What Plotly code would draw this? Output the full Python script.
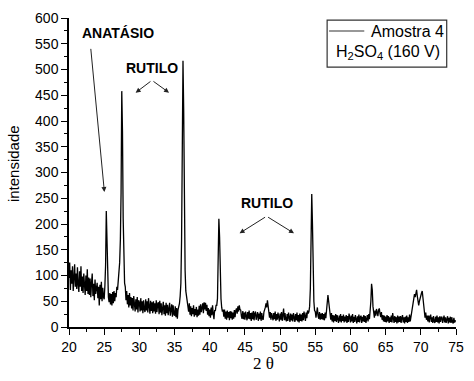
import plotly.graph_objects as go

# 2-theta sampling grid: start 20.0, step 0.1 (one row below = one degree)
theta_start = 20.0
theta_step = 0.1

intensity = (
    [95, 125, 72, 110, 84, 118, 70, 100, 122, 78] +     # 20
    [104, 74, 116, 82, 68, 108, 78, 118, 70, 98] +      # 21
    [66, 104, 72, 62, 100, 70, 112, 64, 96, 62] +       # 22
    [94, 58, 86, 104, 60, 84, 52, 92, 64, 78] +         # 23
    [86, 56, 78, 42, 82, 54, 88, 50, 76, 58] +          # 24
    [54, 80, 120, 225, 150, 92, 58, 48, 66, 44] +       # 25
    [64, 42, 68, 46, 70, 50, 66, 58, 78, 72] +          # 26
    [88, 100, 125, 170, 260, 458, 380, 210, 120, 85] +  # 27
    [78, 52, 70, 44, 62, 38, 66, 42, 58, 36] +          # 28
    [56, 32, 60, 38, 30, 54, 34, 58, 28, 52] +          # 29
    [48, 30, 56, 32, 50, 27, 52, 34, 29, 54] +          # 30
    [32, 50, 28, 56, 34, 26, 51, 31, 48, 27] +          # 31
    [50, 30, 46, 26, 52, 29, 45, 48, 25, 51] +          # 32
    [28, 46, 23, 44, 49, 25, 42, 22, 47, 27] +          # 33
    [43, 23, 41, 47, 22, 39, 44, 20, 42, 25] +          # 34
    [22, 40, 19, 37, 16, 34, 40, 46, 60, 85] +          # 35
    [170, 300, 517, 420, 210, 110, 70, 55, 46, 40] +    # 36
    [30, 46, 24, 40, 21, 37, 25, 42, 20, 35] +          # 37
    [23, 39, 19, 34, 22, 41, 24, 44, 29, 40] +          # 38
    [46, 27, 48, 34, 47, 31, 43, 24, 37, 21] +          # 39
    [34, 18, 38, 23, 42, 26, 15, 33, 31, 42] +          # 40
    [42, 55, 120, 210, 175, 95, 55, 38, 30, 34] +       # 41
    [20, 34, 16, 30, 14, 32, 18, 29, 13, 31] +          # 42
    [17, 30, 14, 28, 16, 33, 19, 32, 36, 26] +          # 43
    [40, 30, 42, 34, 33, 21, 16, 31, 15, 28] +          # 44
    [14, 30, 17, 13, 29, 16, 32, 15, 27, 12] +          # 45
    [28, 15, 31, 13, 26, 30, 14, 25, 29, 12] +          # 46
    [26, 15, 30, 12, 27, 16, 14, 29, 32, 38] +          # 47
    [46, 38, 52, 36, 30, 18, 29, 14, 27, 16] +          # 48
    [13, 27, 15, 30, 12, 25, 14, 28, 16, 11] +          # 49
    [26, 14, 29, 12, 24, 36, 13, 27, 15, 11] +          # 50
    [25, 12, 28, 14, 10, 26, 13, 24, 11, 27] +          # 51
    [14, 10, 25, 13, 28, 11, 23, 9, 26, 12] +           # 52
    [24, 11, 27, 13, 30, 15, 12, 28, 17, 32] +          # 53
    [26, 30, 40, 75, 140, 258, 200, 100, 50, 32] +      # 54
    [30, 18, 33, 38, 21, 16, 29, 14, 26, 15] +          # 55
    [27, 14, 25, 13, 28, 17, 32, 45, 62, 50] +          # 56
    [34, 18, 14, 27, 11, 23, 9, 22, 12, 25] +           # 57
    [10, 23, 12, 8, 22, 11, 25, 9, 21, 12] +            # 58
    [24, 9, 20, 11, 23, 8, 21, 10, 26, 12] +            # 59
    [9, 22, 11, 25, 8, 20, 10, 23, 12, 7] +             # 60
    [21, 10, 24, 9, 19, 22, 8, 20, 11, 23] +            # 61
    [10, 21, 8, 19, 23, 11, 25, 15, 28, 50] +           # 62
    [84, 72, 40, 26, 18, 32, 22, 35, 25, 21] +          # 63
    [33, 36, 26, 19, 29, 14, 23, 11, 22, 10] +          # 64
    [20, 9, 23, 11, 21, 8, 19, 10, 22, 9] +             # 65
    [27, 11, 8, 21, 10, 19, 7, 22, 9, 20] +             # 66
    [10, 21, 8, 18, 23, 9, 19, 7, 20, 10] +             # 67
    [22, 8, 19, 10, 24, 11, 21, 26, 32, 42] +           # 68
    [55, 64, 58, 66, 72, 60, 48, 42, 50, 58] +          # 69
    [62, 66, 70, 55, 38, 26, 18, 28, 14, 22] +          # 70
    [11, 22, 9, 20, 24, 10, 19, 8, 21, 11] +            # 71
    [8, 20, 10, 22, 9, 19, 7, 21, 10, 18] +             # 72
    [20, 8, 18, 22, 9, 19, 8, 17, 21, 7] +              # 73
    [18, 9, 20, 8, 19, 10, 7, 18, 9, 12] +              # 74
    [12]                                                # 75
)
two_theta = [round(theta_start + theta_step * i, 2) for i in range(len(intensity))]

x_ticks = [20, 25, 30, 35, 40, 45, 50, 55, 60, 65, 70, 75]
y_ticks = [0, 50, 100, 150, 200, 250, 300, 350, 400, 450, 500, 550, 600]

series_name = "Amostra 4"
series_note = "H<sub>2</sub>SO<sub>4</sub> (160 V)"
x_title = "2 θ"
y_title = "intensidade"

# phase labels: (text, x, y)
phase_labels = [("ANATÁSIO", 26.9, 571), ("RUTILO", 31.75, 502), ("RUTILO", 48.2, 240)]
# arrows: (tail_x, tail_y, head_x, head_y)
phase_arrows = [
    (23.08, 543, 25.03, 262),
    (31.79, 479, 29.47, 455),
    (31.79, 479, 34.22, 455),
    (48.08, 215, 44.24, 182),
    (48.08, 215, 51.98, 182),
]

fig = go.Figure()
fig.add_trace(go.Scatter(x=two_theta, y=intensity, mode="lines",
                         line=dict(color="black", width=1.3), name=series_name,
                         showlegend=False))

tick_font = dict(family="Liberation Sans, Arial, sans-serif", size=14, color="black")
fig.update_xaxes(range=[20, 75], tickvals=x_ticks, ticks="outside", ticklen=6,
                 tickwidth=1, tickcolor="black", showline=True, linecolor="black",
                 linewidth=1.5, showgrid=False, zeroline=False, tickfont=tick_font,
                 minor=dict(ticks="outside", ticklen=3, dtick=2.5, tick0=20,
                            tickcolor="black", showgrid=False))
fig.update_yaxes(range=[0, 600], tickvals=y_ticks, ticks="outside", ticklen=6,
                 tickwidth=1, tickcolor="black", showline=True, linecolor="black",
                 linewidth=1.5, showgrid=False, zeroline=False, tickfont=tick_font,
                 minor=dict(ticks="outside", ticklen=3, dtick=25, tick0=0,
                            tickcolor="black", showgrid=False))

annotations = []
for txt, x, y in phase_labels:
    annotations.append(dict(x=x, y=y, xref="x", yref="y", text="<b>%s</b>" % txt,
                            showarrow=False, font=dict(family="Liberation Sans, Arial",
                                                       size=14, color="black")))
for tx, ty, hx, hy in phase_arrows:
    annotations.append(dict(x=hx, y=hy, ax=tx, ay=ty, xref="x", yref="y",
                            axref="x", ayref="y", text="", showarrow=True,
                            arrowhead=2, arrowsize=1, arrowwidth=1,
                            arrowcolor="#222222"))

# legend box
annotations.append(dict(x=0.776, y=0.957, xref="paper", yref="paper", text=series_name,
                        showarrow=False, xanchor="left", yanchor="middle",
                        font=dict(family="Liberation Sans, Arial", size=16, color="black")))
annotations.append(dict(x=0.823, y=0.888, xref="paper", yref="paper", text=series_note,
                        showarrow=False, xanchor="center", yanchor="middle",
                        font=dict(family="Liberation Sans, Arial", size=16, color="black")))
# axis titles
annotations.append(dict(x=0.5025, y=-0.118, xref="paper", yref="paper", text=x_title,
                        showarrow=False, xanchor="center", yanchor="middle",
                        font=dict(family="Liberation Serif, Times New Roman, serif",
                                  size=17, color="black")))
annotations.append(dict(x=-0.145, y=0.53, xref="paper", yref="paper", text=y_title,
                        showarrow=False, textangle=-90, xanchor="center", yanchor="middle",
                        font=dict(family="Liberation Sans, Arial", size=15, color="black")))

shapes = [
    dict(type="rect", xref="paper", yref="paper", x0=0.667, x1=0.976, y0=0.841, y1=0.993,
         line=dict(color="#333333", width=1.2), fillcolor="white", layer="above"),
    dict(type="line", xref="paper", yref="paper", x0=0.672, x1=0.763, y0=0.958, y1=0.958,
         line=dict(color="#333333", width=1.2)),
]

fig.update_layout(width=474, height=381, margin=dict(l=69, r=12, t=10, b=54),
                  paper_bgcolor="white", plot_bgcolor="white",
                  annotations=annotations, shapes=shapes, showlegend=False)

fig.write_html("out.html", config={"displayModeBar": False},
               post_script="document.body.style.margin='0';document.body.style.overflow='hidden';")
